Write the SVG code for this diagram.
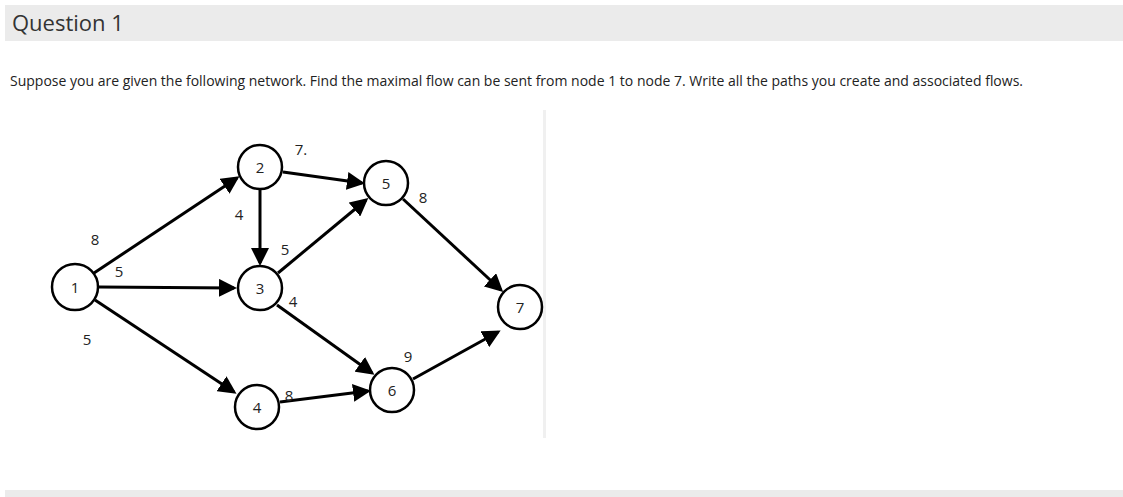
<svg xmlns="http://www.w3.org/2000/svg" width="1123" height="497" viewBox="0 0 1123 497">
<defs>
<style>
.n circle{fill:#fff;stroke:#000;stroke-width:2.5}
.n text,.lb{font-family:"Open Sans","Liberation Sans",sans-serif;font-size:15px;fill:#222;text-anchor:middle}
#edges line{stroke:#000;stroke-width:3;marker-end:url(#a)}
</style>
<marker id="a" markerWidth="6" markerHeight="6" refX="5" refY="3" orient="auto" markerUnits="strokeWidth"><path d="M0,0L6,3L0,6z" fill="#000"/></marker>
</defs>
<rect width="1123" height="497" fill="#fff"/>
<rect x="5" y="5" width="1118" height="36" fill="#ebebeb"/>
<text x="12" y="31" font-family="'Open Sans','Liberation Sans',sans-serif" font-size="22" fill="#333">Question 1</text>
<text x="10" y="86" font-family="'Open Sans','Liberation Sans',sans-serif" font-size="14" fill="#222">Suppose you are given the following network. Find the maximal flow can be sent from node 1 to node 7. Write all the paths you create and associated flows.</text>
<rect x="543" y="110" width="3" height="328" fill="#f0f0f0"/>
<rect x="5" y="490" width="1118" height="7" fill="#ebebeb"/>
<g id="edges">
<line x1="94" y1="273" x2="237" y2="178"/>
<line x1="99" y1="287" x2="234" y2="288"/>
<line x1="95" y1="300" x2="234" y2="392"/>
<line x1="260" y1="190" x2="260" y2="263"/>
<line x1="283" y1="172" x2="362" y2="183"/>
<line x1="278" y1="273" x2="366" y2="200"/>
<line x1="277" y1="305" x2="372" y2="373"/>
<line x1="280" y1="402" x2="368" y2="391"/>
<line x1="403" y1="199" x2="501" y2="290"/>
<line x1="413" y1="379" x2="498" y2="332"/>
</g>
<g id="n1" class="n"><circle cx="75" cy="287" r="23"/><text x="75" y="293">1</text></g>
<g id="n2" class="n"><circle cx="260" cy="167" r="22"/><text x="260" y="173">2</text></g>
<g id="n3" class="n"><circle cx="260" cy="288" r="22"/><text x="260" y="294">3</text></g>
<g id="n4" class="n"><circle cx="257" cy="407" r="22"/><text x="257" y="413">4</text></g>
<g id="n5" class="n"><circle cx="386" cy="183" r="22"/><text x="386" y="189">5</text></g>
<g id="n6" class="n"><circle cx="392" cy="390" r="22"/><text x="392" y="396">6</text></g>
<g id="n7" class="n"><circle cx="520" cy="307" r="22"/><text x="520" y="313">7</text></g>
<g class="lb">
<text class="lb" x="95" y="245">8</text>
<text class="lb" x="119" y="277">5</text>
<text class="lb" x="87" y="345">5</text>
<text class="lb" x="239" y="220">4</text>
<text class="lb" x="301" y="155">7.</text>
<text class="lb" x="285" y="255">5</text>
<text class="lb" x="293" y="307">4</text>
<text class="lb" x="423" y="203">8</text>
<text class="lb" x="408" y="362">9</text>
<text class="lb" x="289" y="401">8</text>
</g>
</svg>
